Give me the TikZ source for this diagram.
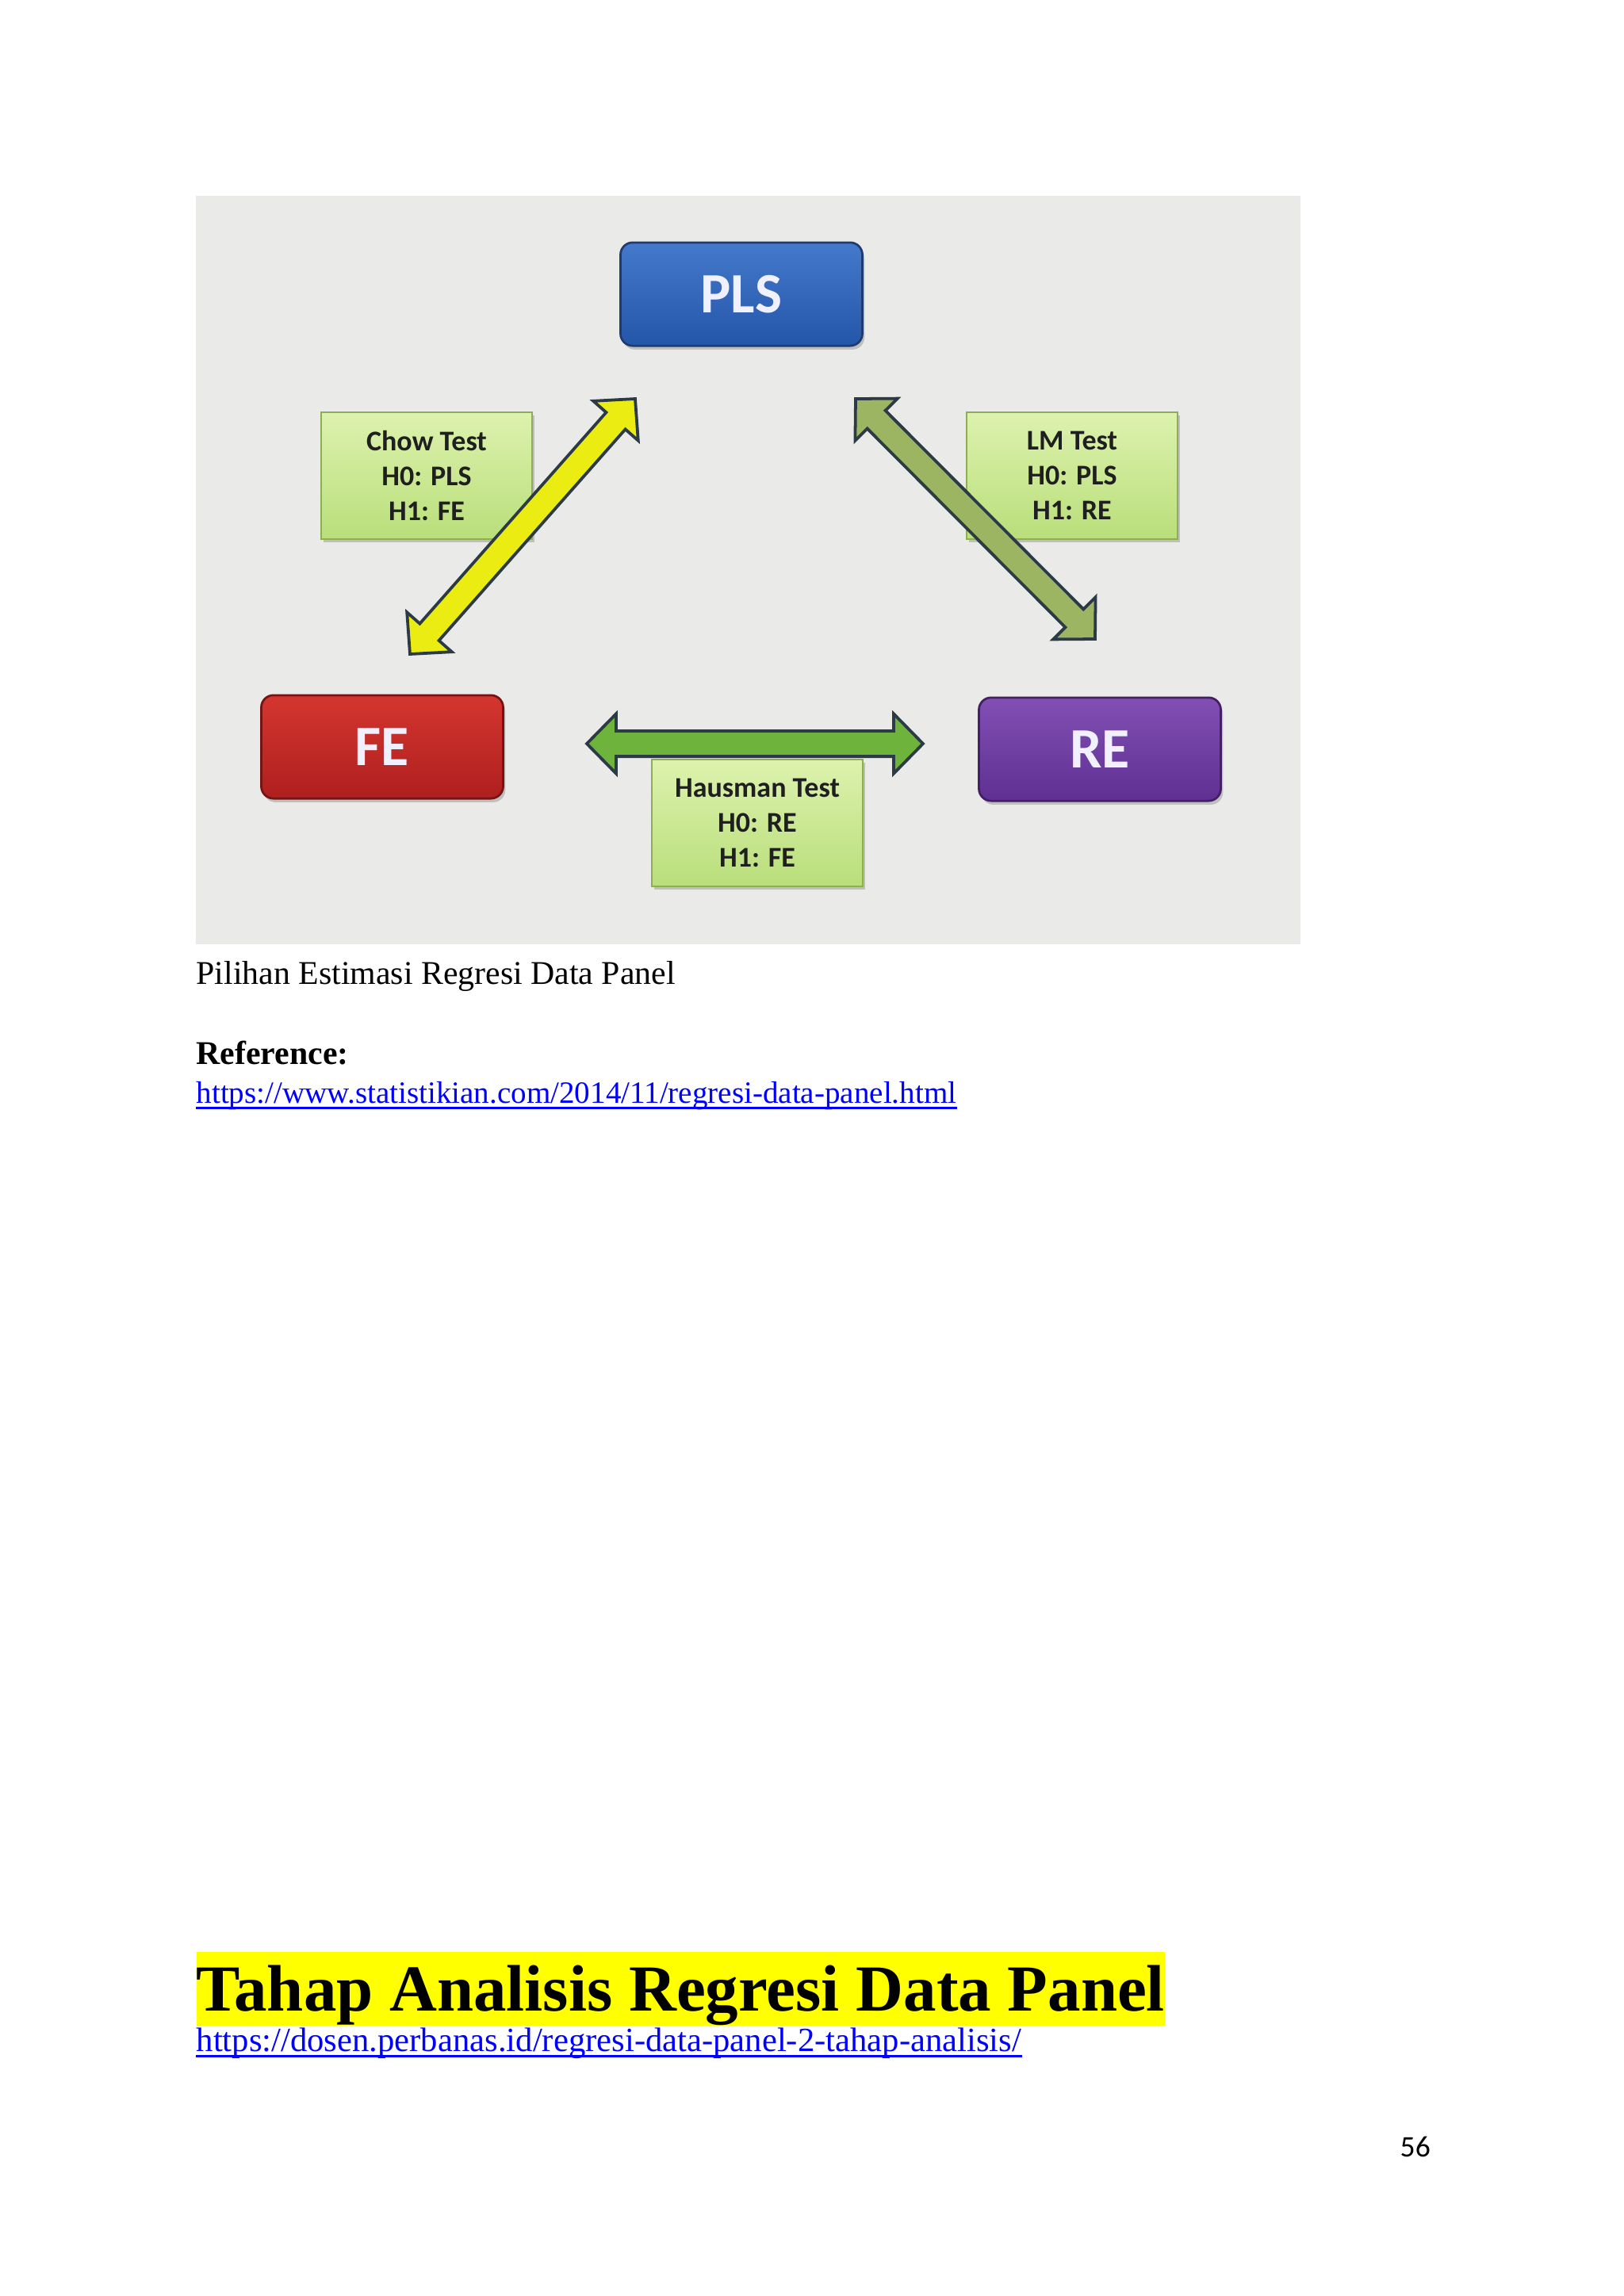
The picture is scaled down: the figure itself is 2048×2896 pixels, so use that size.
\documentclass[tikz,border=0pt]{standalone}
\usepackage{fontspec}
\setmainfont{Liberation Serif}
\newfontfamily\calibrifont{Carlito}
\usepackage{tikz}
\usetikzlibrary{calc,positioning,shadows}
\definecolor{PanelGray}{HTML}{EAEAE8}
\definecolor{PlsTop}{HTML}{4479CC}
\definecolor{PlsBot}{HTML}{2456A8}
\definecolor{PlsEdge}{HTML}{1E3C70}
\definecolor{FeTop}{HTML}{D4362F}
\definecolor{FeBot}{HTML}{AE1F1E}
\definecolor{FeEdge}{HTML}{761414}
\definecolor{ReTop}{HTML}{8250B4}
\definecolor{ReBot}{HTML}{5F2F91}
\definecolor{ReEdge}{HTML}{431F66}
\definecolor{TestTop}{HTML}{DDF2AE}
\definecolor{TestBot}{HTML}{B9DE7A}
\definecolor{TestEdge}{HTML}{8DAE55}
\definecolor{ChowYellow}{HTML}{EAEC12}
\definecolor{LmOlive}{HTML}{9CB562}
\definecolor{HausGreen}{HTML}{6DB33C}
\definecolor{ArrowEdge}{HTML}{2B3A44}
\definecolor{LinkBlue}{HTML}{0000FF}
\definecolor{MarkYellow}{HTML}{FFFF00}

\begin{document}
\begin{tikzpicture}[x=0.0102539cm, y=-0.0102539cm,
  model/.style={rounded corners=4.5pt, minimum width=89pt, minimum height=38pt, line width=0.8pt,
    drop shadow={opacity=0.4, shadow xshift=0.8pt, shadow yshift=-1.4pt},
    text=white!94!blue, font=\calibrifont\bfseries\fontsize{21}{25}\selectfont},
  testbox/.style={minimum width=77.5pt, minimum height=46.8pt, draw=TestEdge, line width=0.6pt,
    top color=TestTop, bottom color=TestBot, align=center, text=black!88,
    drop shadow={opacity=0.4, shadow xshift=0.9pt, shadow yshift=-1.2pt},
    font=\calibrifont\bfseries\fontsize{10.5}{12.8}\selectfont},
  pagetext/.style={anchor=base west, inner sep=0pt, font=\fontsize{12.2}{14}\selectfont},
  link/.style={LinkBlue, line width=1pt}]
\useasboundingbox (0,0) rectangle (2048,2896);

% Panel background
\fill[PanelGray] (247,247) rectangle (1640,1191);

% Model boxes
\node[model, draw=PlsEdge, top color=PlsTop, bottom color=PlsBot] (pls) at (935,371) {PLS};
\node[model, draw=FeEdge, top color=FeTop, bottom color=FeBot] (fe) at (482,942) {FE};
\node[model, draw=ReEdge, top color=ReTop, bottom color=ReBot] (re) at (1387,945) {RE};

% Test boxes
\node[testbox] (chow) at (538,600) {Chow Test\\H0: PLS\\H1: FE};
\node[testbox] (lm) at (1352,600) {LM Test\\H0: PLS\\H1: RE};
\node[testbox] (haus) at (955,1038) {Hausman Test\\H0: RE\\H1: FE};

% Arrow ends
\coordinate (chowA) at (517,825);
\coordinate (chowB) at (801,503);
\coordinate (lmA) at (1079,503);
\coordinate (lmB) at (1381,806);
\coordinate (hausA) at (740,938);
\coordinate (hausB) at (1164,938);

% Block arrows
\foreach \s/\t/\c in {chowA/chowB/ChowYellow, lmA/lmB/LmOlive, hausA/hausB/HausGreen}{
  \filldraw[fill=\c, draw=ArrowEdge, line width=1.1pt, line join=miter]
    (\s) -- ($(\s)!10.8pt!(\t)!11pt!90:(\t)$) -- ($(\s)!10.8pt!(\t)!4.7pt!90:(\t)$)
    -- ($(\t)!10.8pt!(\s)!4.7pt!-90:(\s)$) -- ($(\t)!10.8pt!(\s)!11pt!-90:(\s)$)
    -- (\t) -- ($(\t)!10.8pt!(\s)!11pt!90:(\s)$) -- ($(\t)!10.8pt!(\s)!4.7pt!90:(\s)$)
    -- ($(\s)!10.8pt!(\t)!4.7pt!-90:(\t)$) -- ($(\s)!10.8pt!(\t)!11pt!-90:(\t)$) -- cycle;
}

% Caption and reference
\node[pagetext] (caption) at (247,1241) {Pilihan Estimasi Regresi Data Panel};
\node[pagetext, font=\bfseries\fontsize{12.2}{14}\selectfont] (refhead) at (247,1342) {Reference:};
\node[pagetext, text=LinkBlue, font=\fontsize{11.4}{13}\selectfont] (refurl) at (247,1391) {https://www.statistikian.com/2014/11/regresi-data-panel.html};
\draw[link] ([yshift=-1.9pt]refurl.base west) -- ([yshift=-1.9pt]refurl.base east);

% Heading
\node[pagetext, fill=MarkYellow, text height=21.6pt, text depth=5.5pt,
  font=\bfseries\fontsize{24.2}{27.8}\selectfont] (heading) at (247,2536) {Tahap Analisis Regresi Data Panel};
\node[pagetext, text=LinkBlue, font=\fontsize{12.45}{14.3}\selectfont] (headurl) at (247,2587) {https://dosen.perbanas.id/regresi-data-panel-2-tahap-analisis/};
\draw[link] ([yshift=-1.9pt]headurl.base west) -- ([yshift=-1.9pt]headurl.base east);

% Page number
\node[anchor=base west, inner sep=0pt, font=\calibrifont\fontsize{11}{13}\selectfont] (pagenum) at (1765,2720) {56};
\end{tikzpicture}
\end{document}
